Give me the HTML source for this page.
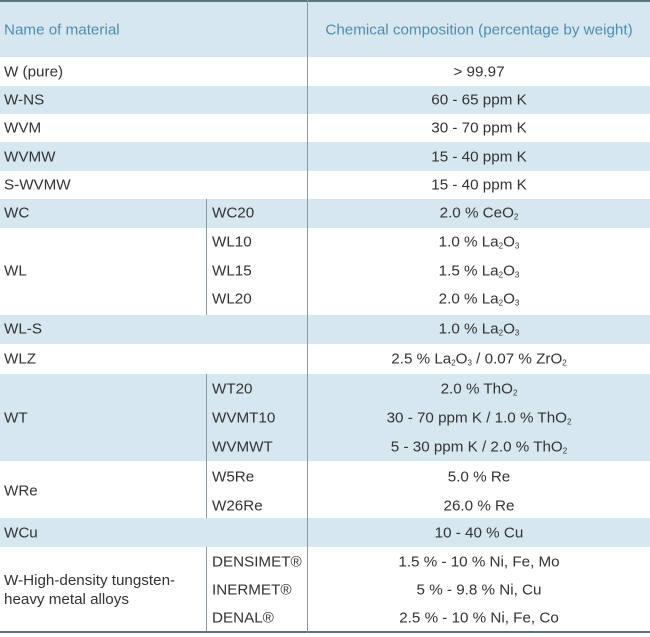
<!DOCTYPE html>
<html><head><meta charset="utf-8"><style>
body{margin:0;width:650px;height:637px;background:#fff;overflow:hidden;font-family:"Liberation Sans",sans-serif;font-size:15.2px;color:#333;position:relative}
.b{position:absolute;left:0;width:650px;background:#d7e7ef}
.t{position:absolute;white-space:nowrap;transform:translateY(-50%)}
.c{position:absolute;white-space:nowrap;transform:translate(-50%,-50%);left:479px}
.v{position:absolute;width:1px;background:#8a9aa4}
sub{font-size:8px;vertical-align:-2px}
</style></head><body>
<div class="b" style="top:0;height:2px;background:#5e7280"></div>
<div class="b" style="top:2px;height:55px"></div>
<div class="b" style="top:86px;height:28px"></div>
<div class="b" style="top:142px;height:29px"></div>
<div class="b" style="top:199px;height:29px"></div>
<div class="b" style="top:315px;height:29px"></div>
<div class="b" style="top:374px;height:87px"></div>
<div class="b" style="top:518px;height:29px"></div>
<div class="b" style="top:631px;height:2px;background:#5e7280"></div>
<div class="v" style="left:307px;top:0;height:633px"></div>
<div class="v" style="left:206px;top:199px;height:29px"></div>
<div class="v" style="left:206px;top:228px;height:87px"></div>
<div class="v" style="left:206px;top:374px;height:144px"></div>
<div class="v" style="left:206px;top:547px;height:84px"></div>

<div class="t" style="left:4px;top:30px;color:#4f8cb0">Name of material</div>
<div class="c" style="top:30px;color:#4f8cb0">Chemical composition (percentage by weight)</div>

<div class="t" style="left:4px;top:72px">W (pure)</div><div class="c" style="top:72px">&gt; 99.97</div>
<div class="t" style="left:4px;top:100px">W-NS</div><div class="c" style="top:100px">60 - 65 ppm K</div>
<div class="t" style="left:4px;top:128px">WVM</div><div class="c" style="top:128px">30 - 70 ppm K</div>
<div class="t" style="left:4px;top:157px">WVMW</div><div class="c" style="top:157px">15 - 40 ppm K</div>
<div class="t" style="left:4px;top:185px">S-WVMW</div><div class="c" style="top:185px">15 - 40 ppm K</div>
<div class="t" style="left:4px;top:213px">WC</div><div class="t" style="left:212px;top:213px">WC20</div><div class="c" style="top:213px">2.0 % CeO<sub>2</sub></div>
<div class="t" style="left:4px;top:271px">WL</div>
<div class="t" style="left:212px;top:242px">WL10</div><div class="c" style="top:242px">1.0 % La<sub>2</sub>O<sub>3</sub></div>
<div class="t" style="left:212px;top:271px">WL15</div><div class="c" style="top:271px">1.5 % La<sub>2</sub>O<sub>3</sub></div>
<div class="t" style="left:212px;top:299px">WL20</div><div class="c" style="top:299px">2.0 % La<sub>2</sub>O<sub>3</sub></div>
<div class="t" style="left:4px;top:329px">WL-S</div><div class="c" style="top:329px">1.0 % La<sub>2</sub>O<sub>3</sub></div>
<div class="t" style="left:4px;top:359px">WLZ</div><div class="c" style="top:359px">2.5 % La<sub>2</sub>O<sub>3</sub> / 0.07 % ZrO<sub>2</sub></div>
<div class="t" style="left:4px;top:418px">WT</div>
<div class="t" style="left:212px;top:389px">WT20</div><div class="c" style="top:389px">2.0 % ThO<sub>2</sub></div>
<div class="t" style="left:212px;top:418px">WVMT10</div><div class="c" style="top:418px">30 - 70 ppm K / 1.0 % ThO<sub>2</sub></div>
<div class="t" style="left:212px;top:447px">WVMWT</div><div class="c" style="top:447px">5 - 30 ppm K / 2.0 % ThO<sub>2</sub></div>
<div class="t" style="left:4px;top:491px">WRe</div>
<div class="t" style="left:212px;top:477px">W5Re</div><div class="c" style="top:477px">5.0 % Re</div>
<div class="t" style="left:212px;top:506px">W26Re</div><div class="c" style="top:506px">26.0 % Re</div>
<div class="t" style="left:4px;top:533px">WCu</div><div class="c" style="top:533px">10 - 40 % Cu</div>
<div class="t" style="left:4px;top:590px;line-height:19px">W-High-density tungsten-<br>heavy metal alloys</div>
<div class="t" style="left:212px;top:562px">DENSIMET®</div><div class="c" style="top:562px">1.5 % - 10 % Ni, Fe, Mo</div>
<div class="t" style="left:212px;top:590px">INERMET®</div><div class="c" style="top:590px">5 % - 9.8 % Ni, Cu</div>
<div class="t" style="left:212px;top:618px">DENAL®</div><div class="c" style="top:618px">2.5 % - 10 % Ni, Fe, Co</div>
</body></html>
